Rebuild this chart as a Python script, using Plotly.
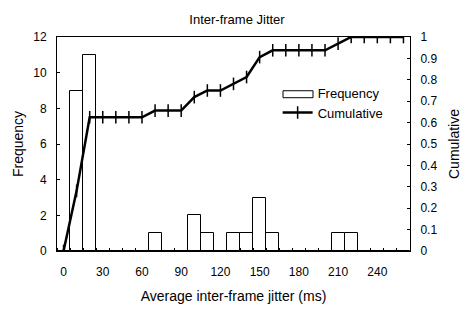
import plotly.graph_objects as go

bins = [0, 10, 20, 30, 40, 50, 60, 70, 80, 90, 100, 110, 120, 130, 140, 150,
        160, 170, 180, 190, 200, 210, 220, 230, 240, 250, 260]
frequency = [0, 9, 11, 0, 0, 0, 0, 1, 0, 0, 2, 1, 0, 1, 1, 3,
             1, 0, 0, 0, 0, 1, 1, 0, 0, 0, 0]
cumulative = [0, 0.281, 0.625, 0.625, 0.625, 0.625, 0.625, 0.656, 0.656, 0.656,
              0.719, 0.75, 0.75, 0.781, 0.813, 0.906, 0.938, 0.938, 0.938, 0.938,
              0.938, 0.969, 1.0, 1.0, 1.0, 1.0, 1.0]
x_tick_labels = [0, 30, 60, 90, 120, 150, 180, 210, 240]
boundaries = [b - 5 for b in bins] + [bins[-1] + 5]

FONT = "Liberation Sans, Arial, sans-serif"

fig = go.Figure()
fig.add_trace(go.Bar(
    x=bins, y=frequency, width=10, name="Frequency", showlegend=False,
    marker=dict(color="white", line=dict(color="black", width=1)),
    yaxis="y",
))
# legend-only entry for the bars (its key is drawn as a wide rectangle below)
fig.add_trace(go.Scatter(
    x=[None], y=[None], name="Frequency", mode="lines", fill="toself",
    fillcolor="rgba(0,0,0,0)", line=dict(color="rgba(0,0,0,0)", width=0),
    yaxis="y",
))
fig.add_trace(go.Scatter(
    x=bins, y=cumulative, name="Cumulative", mode="lines+markers",
    line=dict(color="black", width=2.5),
    marker=dict(symbol="line-ns", size=9, line=dict(color="black", width=1.5)),
    yaxis="y2",
))

fig.update_layout(
    width=474, height=324,
    margin=dict(l=57, r=64, t=37, b=73),
    paper_bgcolor="white", plot_bgcolor="white",
    font=dict(family=FONT, size=12, color="black"),
    title=dict(text="Inter-frame Jitter", x=0.5, xanchor="center",
               y=0.94, yanchor="middle", font=dict(size=13)),
    showlegend=True,
    legend=dict(x=0.625, y=0.81, xanchor="left", yanchor="top",
                bgcolor="rgba(0,0,0,0)", font=dict(size=13),
                tracegroupgap=2, itemwidth=30),
    shapes=[dict(type="rect", xref="paper", yref="paper",
                 x0=(283 - 57) / 353, x1=(313 - 57) / 353,
                 y0=(251 - 97) / 215, y1=(251 - 90) / 215,
                 line=dict(color="black", width=1), fillcolor="white")],
    bargap=0,
    xaxis=dict(
        range=[-5, 265], tickmode="array", tickvals=x_tick_labels,
        ticktext=[str(v) for v in x_tick_labels], ticks="", showgrid=False,
        zeroline=False, showline=True, linecolor="black", linewidth=1,
        mirror=True, ticklabelstandoff=10,
        minor=dict(tickmode="array", tickvals=boundaries, ticks="inside",
                   ticklen=3, tickcolor="black", showgrid=False),
        title=dict(text="Average inter-frame jitter (ms)", standoff=12),
        tickfont=dict(size=12),
    ),
    yaxis=dict(
        range=[0, 12], dtick=2, ticks="inside", ticklen=3, tickcolor="black",
        showgrid=False, zeroline=False, showline=True, linecolor="black",
        linewidth=1, mirror=True, ticklabelstandoff=7,
        title=dict(text="Frequency", standoff=6),
    ),
    yaxis2=dict(
        range=[0, 1], dtick=0.1, overlaying="y", side="right",
        ticks="inside", ticklen=3, tickcolor="black", showgrid=False,
        zeroline=False, showline=True, linecolor="black", linewidth=1,
        ticklabelstandoff=7,
        title=dict(text="Cumulative", standoff=12),
    ),
)

fig.write_html("out.html")
